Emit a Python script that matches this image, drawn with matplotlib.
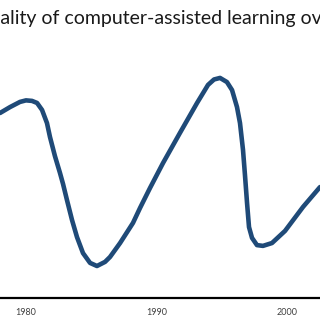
import matplotlib
matplotlib.use("Agg")
import matplotlib.pyplot as plt

title = "Quality of computer-assisted learning over time"
years = [1978.00, 1978.77, 1979.53, 1979.99, 1980.45, 1980.84, 1981.22, 1981.60,
         1981.83, 1982.21, 1982.60, 1982.83, 1983.13, 1983.52, 1983.90, 1984.36,
         1984.90, 1985.43, 1986.05, 1986.43, 1987.20, 1988.19, 1988.73, 1989.49,
         1990.49, 1991.79, 1993.10, 1993.94, 1994.40, 1994.86, 1995.39, 1995.78,
         1996.16, 1996.39, 1996.62, 1996.77, 1996.93, 1997.08, 1997.31, 1997.69,
         1998.15, 1998.84, 1999.84, 2001.22, 2002.52]
quality = [71.7, 74.0, 76.0, 76.6, 76.4, 75.6, 72.9, 67.8,
           62.4, 55.0, 48.4, 44.2, 38.0, 30.2, 23.6, 17.4,
           13.6, 12.4, 14.0, 15.9, 21.3, 29.1, 34.9, 42.6,
           52.3, 64.0, 75.6, 82.6, 84.7, 85.3, 83.7, 80.6,
           74.0, 67.8, 57.4, 47.7, 36.8, 27.5, 23.3, 20.5,
           20.2, 21.3, 26.0, 35.3, 43.0]
tick_years = [1980, 1990, 2000]
tick_labels = ["1980", "1990", "2000"]

fig = plt.figure(figsize=(3.2, 3.2), dpi=100)
fig.patch.set_facecolor("white")
ax = fig.add_axes([0, 1 - 298 / 320, 1, (298 - 40) / 320])
ax.plot(years, quality, color="#1f4a78", linewidth=3.3,
        solid_joinstyle="round", solid_capstyle="round")
ax.set_xlim(1978.0, 2002.52)
ax.set_ylim(0, 100)
for s in ["left", "right", "top"]:
    ax.spines[s].set_visible(False)
ax.spines["bottom"].set_linewidth(1.6)
ax.spines["bottom"].set_color("black")
ax.set_yticks([])
ax.set_xticks(tick_years)
ax.set_xticklabels(tick_labels, fontsize=6.5, color="#404040", family="Lato")
ax.tick_params(axis="x", length=0, pad=7)

# Title, left part cut off by the figure edge as in the reference
renderer = fig.canvas.get_renderer()
tmp = fig.text(0, 0, "Qu", fontsize=14, family="Lato")
w = tmp.get_window_extent(renderer).width
tmp.remove()
fig.text(-w / 320, 1 - 24 / 320, title, fontsize=14, family="Lato",
         color="#1a1a1a", ha="left", va="baseline")

fig.savefig("out.png", dpi=100, facecolor="white")
